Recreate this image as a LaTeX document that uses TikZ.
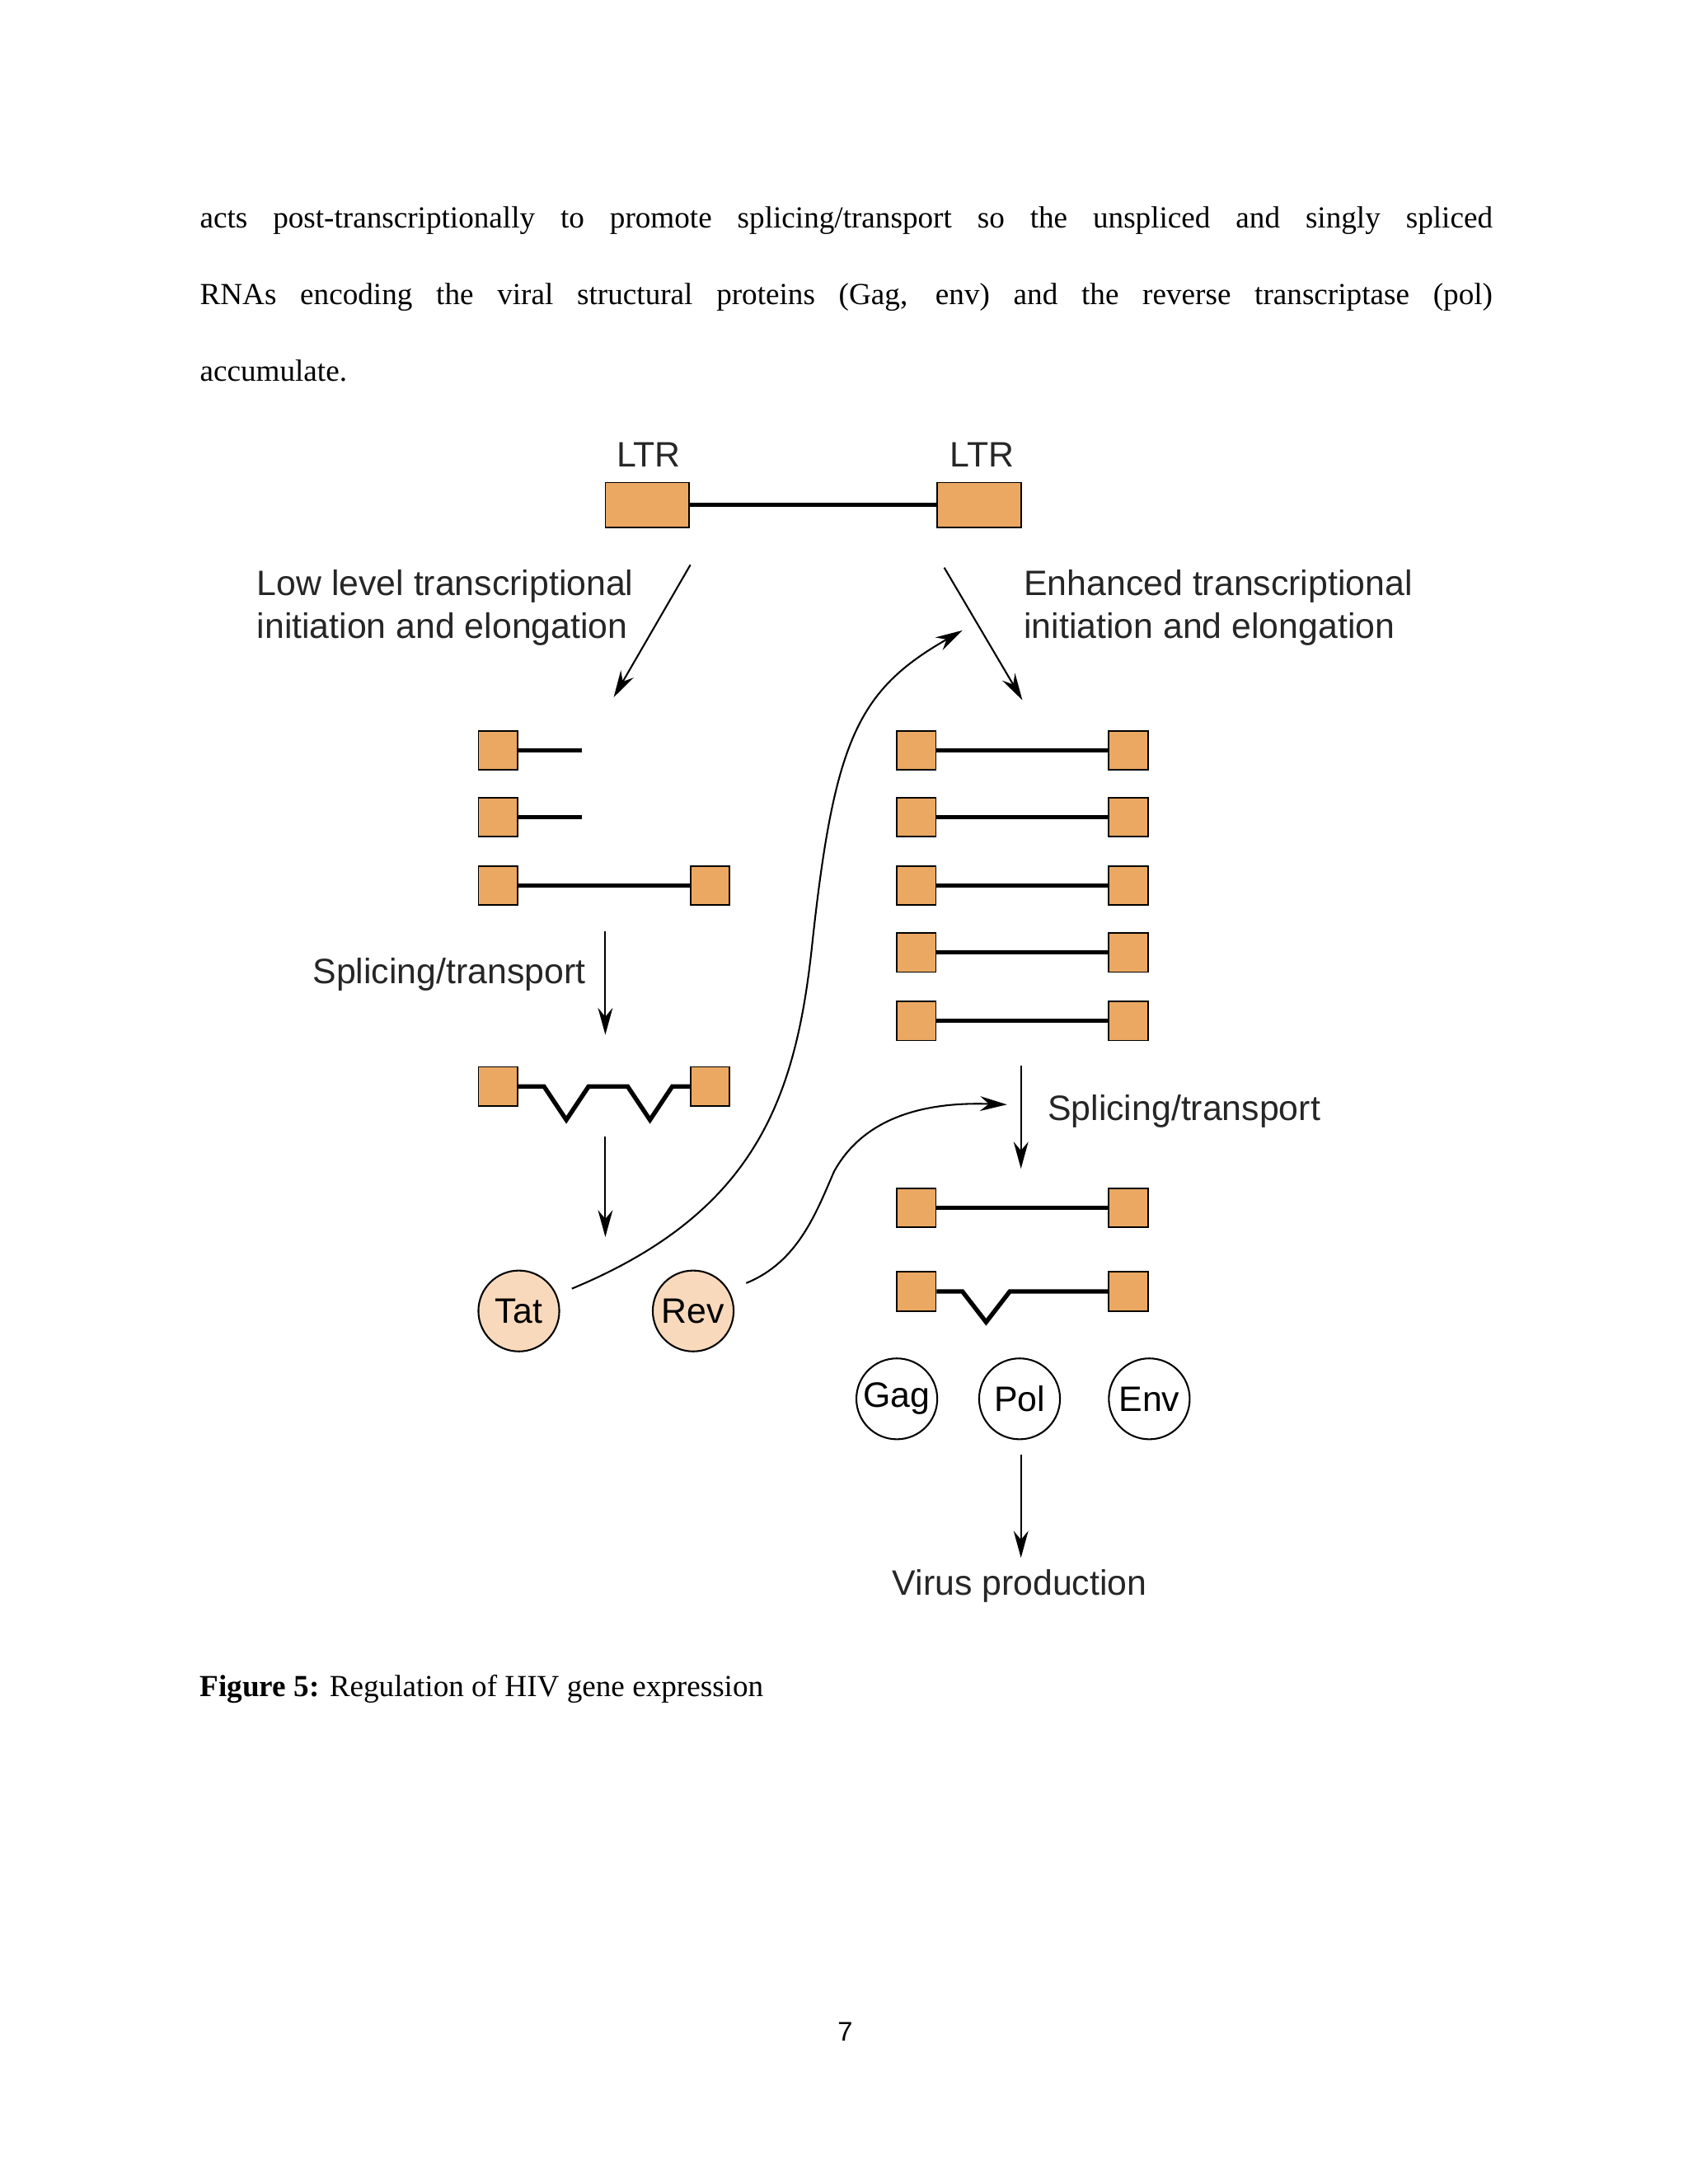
\documentclass[tikz,border=0pt]{standalone}
\usepackage{fontspec}
\setmainfont{Liberation Serif}
\newfontfamily\arialf{Liberation Sans}
\usetikzlibrary{arrows.meta}
\definecolor{box}{HTML}{EBA862}
\definecolor{peach}{HTML}{F9D9BC}
\begin{document}
\begin{tikzpicture}[x=0.02cm,y=-0.02cm,
  bx/.style={draw=black,line width=0.6pt,fill=box,minimum width=0.56cm,minimum height=0.56cm,inner sep=0},
  ltr/.style={draw=black,line width=0.6pt,fill=box,minimum width=1.2cm,minimum height=0.64cm,inner sep=0},
  rna/.style={line width=1.8pt},
  arr/.style={line width=0.7pt,-{Stealth[length=11pt,width=6pt]}},
  lab/.style={font=\arialf\fontsize{14.4}{17.5}\selectfont,text=black!85},
  prot/.style={circle,draw=black,line width=0.7pt,minimum size=1.16cm,inner sep=0,font=\arialf\fontsize{14.4}{16}\selectfont}]
\useasboundingbox (0,0) rectangle (1210,1566);
\node[anchor=north west,inner sep=0,text width=18.54cm,align=justify,font=\fontsize{12.5}{31.3}\selectfont] (txt) at (143,148)
 {acts post-transcriptionally to promote splicing/transport so the unspliced and singly spliced\linebreak RNAs encoding the viral structural proteins (Gag, env) and the reverse transcriptase (pol)\linebreak accumulate.};
% LTR
\node[ltr] (L1) at (464,362) {};
\node[ltr] (L2) at (702,362) {};
\draw[rna] (L1.east) -- (L2.west);
\node[lab] (t1) at (465,326) {LTR};
\node[lab] (t2) at (704,326) {LTR};
\coordinate (a1s) at (495,405); \coordinate (a1e) at (440,500);
\coordinate (a2s) at (677,407); \coordinate (a2e) at (733,502);
\draw[arr] (a1s) -- (a1e);
\draw[arr] (a2s) -- (a2e);
\node[lab,anchor=west,align=left] (low) at (178,436) {Low level transcriptional\\initiation and elongation};
\node[lab,anchor=west,align=left] (enh) at (728,436) {Enhanced transcriptional\\initiation and elongation};
% left rows
\node[bx] (l1) at (357,538) {}; \coordinate (l1e) at (417,538); \draw[rna] (l1.east) -- (l1e);
\node[bx] (l2) at (357,586) {}; \coordinate (l2e) at (417,586); \draw[rna] (l2.east) -- (l2e);
\node[bx] (l3) at (357,635) {}; \node[bx] (r3) at (509,635) {}; \draw[rna] (l3.east) -- (r3.west);
\coordinate (s1) at (434,668); \coordinate (s2) at (434,742);
\draw[arr] (s1) -- (s2);
\node[lab,anchor=east] (sp1) at (426,699) {Splicing/transport};
\node[bx] (l4) at (357,779) {}; \node[bx] (r4) at (509,779) {};
\draw[rna,line join=miter] (l4.east) -- (390,779) -- (406,803) -- (422,779) -- (450,779) -- (466,803) -- (482,779) -- (r4.west);
\coordinate (s3) at (434,815); \coordinate (s4) at (434,887);
\draw[arr] (s3) -- (s4);
\node[prot,fill=peach] (tat) at (372,940) {Tat};
\node[prot,fill=peach] (rev) at (497,940) {Rev};
\coordinate (ta) at (690,452); \coordinate (ra) at (722,792);
\draw[arr] (410,924) .. controls (540,870) and (570,790) .. (582,680) .. controls (598,530) and (615,495) .. (ta);
\draw[arr] (535,920) .. controls (572,905) and (585,870) .. (598,840) .. controls (620,800) and (665,790) .. (ra);
% right rows
\foreach \y/\n in {538/a,586/b,635/c,683/d,732/e}{
  \node[bx] (R\n1) at (657,\y) {}; \node[bx] (R\n2) at (809,\y) {};
  \draw[rna] (R\n1.east) -- (R\n2.west);}
\coordinate (s5) at (732,764); \coordinate (s6) at (732,838);
\draw[arr] (s5) -- (s6);
\node[lab,anchor=west] (sp2) at (745,797) {Splicing/transport};
\node[bx] (Rf1) at (657,866) {}; \node[bx] (Rf2) at (809,866) {};
\draw[rna] (Rf1.east) -- (Rf2.west);
\node[bx] (Rg1) at (657,926) {}; \node[bx] (Rg2) at (809,926) {};
\draw[rna,line join=miter] (Rg1.east) -- (690,926) -- (707,948) -- (724,926) -- (Rg2.west);
\node[prot,fill=white] (gag) at (643,1003) {Gag};
\node[prot,fill=white] (pol) at (731,1003) {Pol};
\node[prot,fill=white] (env) at (824,1003) {Env};
\coordinate (s7) at (732,1043); \coordinate (s8) at (732,1117);
\draw[arr] (s7) -- (s8);
\node[lab] (vp) at (731,1137) {Virus production};
\node[anchor=west,inner sep=0,font=\fontsize{12.5}{15}\selectfont] (cap) at (143,1211) {\textbf{Figure 5:} Regulation of HIV gene expression};
\node[font=\arialf\fontsize{11}{13}\selectfont] (pg) at (606,1457) {7};
\end{tikzpicture}
\end{document}
